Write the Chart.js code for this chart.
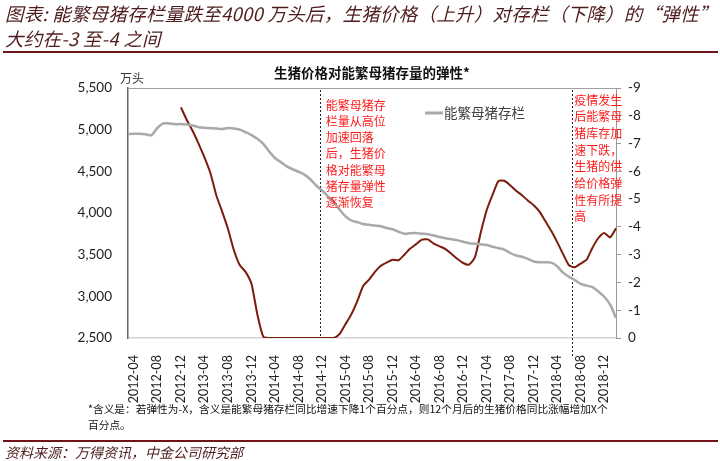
<!DOCTYPE html>
<html>
<head>
<meta charset="utf-8">
<script src="https://cdn.jsdelivr.net/npm/chart.js@4.4.0/dist/chart.umd.min.js"></script>
<style>
  html, body { margin: 0; padding: 0; background: #fff; }
  #quadro { position: relative; width: 720px; height: 461px; overflow: hidden; font-family: "Noto Sans CJK SC", sans-serif; }
  #grafico { position: absolute; left: 0; top: 0; }
  .titulo { position: absolute; left: 5px; top: 1px; font-size: 18.5px; line-height: 25px; font-style: italic; color: #4e1c1c; white-space: nowrap; letter-spacing: 0.25px; }
  .regua { position: absolute; left: 3px; width: 715px; height: 2px; background: #701417; }
  .nota { position: absolute; left: 88px; top: 401px; font-size: 10.7px; line-height: 16px; color: #111; white-space: nowrap; }
  .fonte { position: absolute; left: 5px; top: 443px; font-size: 14px; line-height: 18px; font-style: italic; color: #4e1c1c; white-space: nowrap; }
</style>
</head>
<body>
<div id="quadro">
  <canvas id="grafico" width="720" height="461"></canvas>
  <div class="titulo">图表: 能繁母猪存栏量跌至4000 万头后，生猪价格（上升）对存栏（下降）的“弹性”<br>大约在-3 至-4 之间</div>
  <div class="regua" style="top:51px"></div>
  <div class="nota">*含义是：若弹性为-X，含义是能繁母猪存栏同比增速下降1个百分点，则12个月后的生猪价格同比涨幅增加X个<br>百分点。</div>
  <div class="regua" style="top:440px"></div>
  <div class="fonte">资料来源：万得资讯，中金公司研究部</div>
</div>
<script>
// meses (2012-03 a 2019-02)
const meses = [
    '2012-03', '2012-04', '2012-05', '2012-06', '2012-07', '2012-08', '2012-09', '2012-10', '2012-11', '2012-12',
    '2013-01', '2013-02', '2013-03', '2013-04', '2013-05', '2013-06', '2013-07', '2013-08', '2013-09', '2013-10', '2013-11', '2013-12',
    '2014-01', '2014-02', '2014-03', '2014-04', '2014-05', '2014-06', '2014-07', '2014-08', '2014-09', '2014-10', '2014-11', '2014-12',
    '2015-01', '2015-02', '2015-03', '2015-04', '2015-05', '2015-06', '2015-07', '2015-08', '2015-09', '2015-10', '2015-11', '2015-12',
    '2016-01', '2016-02', '2016-03', '2016-04', '2016-05', '2016-06', '2016-07', '2016-08', '2016-09', '2016-10', '2016-11', '2016-12',
    '2017-01', '2017-02', '2017-03', '2017-04', '2017-05', '2017-06', '2017-07', '2017-08', '2017-09', '2017-10', '2017-11', '2017-12',
    '2018-01', '2018-02', '2018-03', '2018-04', '2018-05', '2018-06', '2018-07', '2018-08', '2018-09', '2018-10', '2018-11', '2018-12',
    '2019-01', '2019-02'
];

// 能繁母猪存栏 (万头)
const estoqueMatrizes = [
    4948, 4950, 4950, 4945, 4935, 5020, 5075, 5075, 5065, 5068, 5062, 5050,
    5030, 5022, 5018, 5015, 5008, 5020, 5015, 5000, 4970, 4935, 4890, 4830,
    4740, 4660, 4610, 4560, 4525, 4495, 4460, 4405, 4330, 4270, 4200, 4130,
    4040, 3960, 3910, 3890, 3868, 3858, 3850, 3840, 3820, 3805, 3775, 3752,
    3758, 3760, 3752, 3745, 3730, 3712, 3698, 3686, 3672, 3655, 3638, 3630,
    3625, 3615, 3595, 3578, 3560, 3520, 3490, 3475, 3450, 3418, 3410, 3410,
    3405, 3360, 3285, 3235, 3195, 3150, 3128, 3110, 3058, 2995, 2900, 2740
];

// 弹性 (eixo direito, invertido)
const elasticidade = [
    null, null, null, null, null, null, null, null, null, -8.3, -7.85, -7.45,
    -7.0, -6.5, -5.95, -5.15, -4.56, -3.93, -3.17, -2.63, -2.38, -1.95, -0.85, -0.05,
    0, 0, 0, 0, 0, 0, 0, 0, 0, 0, 0, 0,
    -0.15, -0.5, -0.86, -1.33, -1.87, -2.1, -2.38, -2.6, -2.72, -2.82, -2.8, -3.0,
    -3.22, -3.38, -3.54, -3.55, -3.4, -3.3, -3.2, -3.03, -2.85, -2.7, -2.64, -2.9,
    -3.8, -4.6, -5.15, -5.65, -5.66, -5.5, -5.3, -5.14, -4.95, -4.78, -4.55, -4.2,
    -3.85, -3.45, -3.02, -2.62, -2.55, -2.68, -2.82, -3.25, -3.6, -3.78, -3.62, -3.95
];

// ticks dos eixos
const ticksEsquerda = [2500, 3000, 3500, 4000, 4500, 5000, 5500];
const ticksDireita = [0, -1, -2, -3, -4, -5, -6, -7, -8, -9];

// linhas pontilhadas (posição em meses, fracionária) e notas em vermelho
const marcos = [32.6, 75.55];
const nota1 = ['能繁母猪存', '栏量从高位', '加速回落', '后，生猪价', '格对能繁母', '猪存量弹性', '逐渐恢复'];
const nota2 = ['疫情发生', '后能繁母', '猪库存加', '速下跌，', '生猪的供', '给价格弹', '性有所提', '高'];

const fonteCJK = '"Noto Sans CJK SC", sans-serif';

const desenhos = {
    id: 'desenhos',
    beforeDatasetsDraw(chart) {
        const { ctx, chartArea: a, scales: { x } } = chart;
        ctx.save();
        // borda superior
        ctx.strokeStyle = '#a0a0a0';
        ctx.lineWidth = 1;
        ctx.beginPath();
        ctx.moveTo(a.left, a.top + 0.5);
        ctx.lineTo(a.right, a.top + 0.5);
        ctx.stroke();
        // linhas pontilhadas
        ctx.setLineDash([2, 2]);
        ctx.strokeStyle = '#222';
        marcos.forEach((m, k) => {
            const px = Math.round(x.getPixelForValue(m)) + 0.5;
            ctx.beginPath();
            ctx.moveTo(px, a.top + 2);
            ctx.lineTo(px, a.bottom + (k === 1 ? 20 : 0));
            ctx.stroke();
        });
        ctx.restore();
    },
    afterDatasetsDraw(chart) {
        const { ctx, chartArea: a, scales: { x } } = chart;
        ctx.save();
        // título do gráfico
        ctx.fillStyle = '#111';
        ctx.font = 'bold 13.5px ' + fonteCJK;
        ctx.textAlign = 'center';
        ctx.textBaseline = 'middle';
        ctx.fillText('生猪价格对能繁母猪存量的弹性*', (a.left + a.right) / 2, a.top - 15);
        // unidade
        ctx.textAlign = 'left';
        ctx.font = '12px ' + fonteCJK;
        ctx.fillStyle = '#333';
        ctx.fillText('万头', a.left - 8, a.top - 10);
        // legenda
        const ds = chart.data.datasets[0];
        ctx.strokeStyle = ds.borderColor;
        ctx.lineWidth = 3;
        ctx.beginPath();
        ctx.moveTo(a.left + 297, a.top + 25);
        ctx.lineTo(a.left + 315, a.top + 25);
        ctx.stroke();
        ctx.fillStyle = '#404040';
        ctx.font = '13.5px ' + fonteCJK;
        ctx.fillText(ds.label, a.left + 316, a.top + 25);
        // notas
        ctx.fillStyle = '#ff1a1a';
        ctx.font = '12px ' + fonteCJK;
        const x1 = x.getPixelForValue(marcos[0]) + 6;
        nota1.forEach((t, k) => ctx.fillText(t, x1, a.top + 17 + k * 16.3));
        const x2 = x.getPixelForValue(marcos[1]) + 2;
        nota2.forEach((t, k) => ctx.fillText(t, x2, a.top + 12 + k * 16.7));
        ctx.restore();
    }
};

new Chart(document.getElementById('grafico').getContext('2d'), {
    type: 'line',
    data: {
        labels: meses,
        datasets: [
            {
                label: '能繁母猪存栏',
                data: estoqueMatrizes,
                yAxisID: 'y',
                borderColor: '#a9a9a9',
                borderWidth: 2.5,
                pointRadius: 0,
                tension: 0.3
            },
            {
                label: '弹性',
                data: elasticidade,
                yAxisID: 'y2',
                borderColor: '#7b1c0c',
                borderWidth: 2,
                pointRadius: 0,
                tension: 0.2
            }
        ]
    },
    options: {
        responsive: false,
        devicePixelRatio: 1,
        animation: false,
        layout: { padding: { top: 88, left: 0, right: 0, bottom: 0 } },
        plugins: { legend: { display: false }, tooltip: { enabled: false } },
        scales: {
            x: {
                offset: false,
                grid: { display: false },
                border: { color: '#d4d4d4', width: 1.5 },
                ticks: {
                    autoSkip: false,
                    minRotation: 90,
                    maxRotation: 90,
                    padding: 9,
                    color: '#222',
                    font: { family: 'Lato', size: 12.5 },
                    callback: function (v, i) { return i % 4 === 1 ? this.getLabelForValue(v) : ''; }
                },
                afterFit: s => { s.height = 123; }
            },
            y: {
                position: 'left',
                min: 2500,
                max: 5500,
                grid: { display: false, drawTicks: false },
                border: { color: '#666', width: 1.5 },
                afterBuildTicks: s => { s.ticks = ticksEsquerda.map(v => ({ value: v })); },
                ticks: {
                    padding: 16,
                    color: '#222',
                    font: { family: 'Lato', size: 13.5 },
                    callback: v => v.toLocaleString('en-US')
                },
                afterFit: s => { s.width = 128; }
            },
            y2: {
                position: 'right',
                min: -9,
                max: 0,
                reverse: true,
                grid: { drawOnChartArea: false, drawTicks: true, tickLength: 5, tickColor: '#999' },
                border: { color: '#999', width: 1 },
                afterBuildTicks: s => { s.ticks = ticksDireita.map(v => ({ value: v })); },
                ticks: {
                    padding: 7,
                    color: '#222',
                    font: { family: 'Lato', size: 13.5 }
                },
                afterFit: s => { s.width = 104; }
            }
        }
    },
    plugins: [desenhos]
});
</script>
</body>
</html>
